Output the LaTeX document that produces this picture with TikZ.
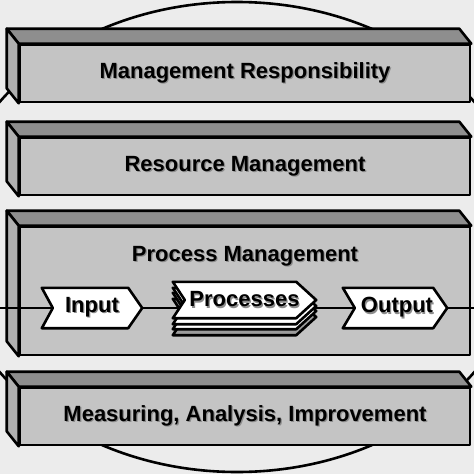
\documentclass[tikz,border=0pt]{standalone}
\usepackage{fontspec}
\setmainfont{Liberation Sans}
\usetikzlibrary{calc}
\definecolor{bg}{HTML}{ECECEC}
\definecolor{frontc}{HTML}{C4C4C4}
\definecolor{topc}{HTML}{8E8E8E}
\definecolor{sidec}{HTML}{B0B0B0}
\definecolor{layerc}{HTML}{9C9C9C}
\newcommand\shadowed[1]{\leavevmode\rlap{\raisebox{-1.2pt}{\hspace{1.2pt}\textcolor{black!45}{#1}}}#1}
\newcommand\chevpath[3]{(#1.north west) -- ($(#1.north east)+(-#2,0)$) -- (#1.east) -- ($(#1.south east)+(-#2,0)$) -- (#1.south west) -- ($(#1.west)+(#3,0)$) -- cycle}
\newcommand\slabfaces[1]{%
  \draw[edge, fill=topc] (#1.north west) -- (#1.north east) -- ($(#1.north east)+(-12,-15)$) -- ($(#1.north west)+(-12,-15)$) -- cycle;
  \draw[edge, fill=sidec] (#1.north west) -- ($(#1.north west)+(-12,-15)$) -- ($(#1.south west)+(-12,-15)$) -- (#1.south west) -- cycle;
}
\begin{document}
\begin{tikzpicture}[x=1pt,y=-1pt,line join=round,
  edge/.style={line width=2.6pt, draw=black},
  front/.style={edge, fill=frontc, rectangle, minimum width=450, inner sep=0pt,
    font=\fontsize{22}{26}\selectfont\bfseries},
  lbl/.style={inner sep=0pt, font=\fontsize{22}{26}\selectfont\bfseries},
  chevbox/.style={rectangle, inner sep=0pt, font=\fontsize{22}{26}\selectfont\bfseries},
  conn/.style={line width=2.6pt, draw=black}]
\path[fill=bg] (0,0) rectangle (474,474);
\useasboundingbox (0,0) rectangle (474,474);
\clip (0,0) rectangle (474,474);
% background cycle
\draw[edge] (237,237) ellipse [x radius=290, y radius=235];
% slabs
\node[front, minimum height=57] (b1) at (245,73.5) {\shadowed{Management Responsibility}};
\slabfaces{b1}
\node[front, minimum height=57] (b2) at (245,166.5) {\shadowed{Resource Management}};
\slabfaces{b2}
\node[front, minimum height=128] (b3) at (245,291) {};
\slabfaces{b3}
\node[lbl] (pm) at (245,257) {\shadowed{Process Management}};
\node[front, minimum height=57] (b4) at (245,416.5) {\shadowed{Measuring, Analysis, Improvement}};
\slabfaces{b4}
% process chain
\coordinate (Lend) at (0,308);
\coordinate (Rend) at (474,308);
\node[chevbox, minimum width=100, minimum height=40] (inp) at (92,308) {};
\node[chevbox, minimum width=143, minimum height=36] (proc3) at (244.5,317) {};
\node[chevbox, minimum width=143, minimum height=36] (proc2) at (244.5,311) {};
\node[chevbox, minimum width=143, minimum height=36] (proc1) at (244.5,306) {};
\node[chevbox, minimum width=143, minimum height=36] (proc) at (244.5,300) {};
\node[chevbox, minimum width=104, minimum height=40] (out) at (395,308) {};
\draw[conn] (Lend) -- ($(inp.west)+(11,0)$);
\draw[conn] (inp.east) -- ($(proc.west)+(13,8)$);
\draw[conn] ($(proc.east)+(-3,8)$) -- ($(out.west)+(12,0)$);
\draw[conn] (out.east) -- (Rend);
\draw[edge, fill=white] \chevpath{inp}{14}{11};
\draw[edge, fill=layerc] \chevpath{proc3}{20}{12};
\draw[edge, fill=white] \chevpath{proc2}{20}{12};
\draw[edge, fill=white] \chevpath{proc1}{20}{12};
\draw[edge, fill=white] \chevpath{proc}{20}{12};
\draw[edge, fill=white] \chevpath{out}{14}{12};
\node[lbl] at (inp.center) {\shadowed{Input}};
\node[lbl] at (proc.center) {\shadowed{Processes}};
\node[lbl] at ($(out.center)+(2,0)$) {\shadowed{Output}};
\end{tikzpicture}
\end{document}
